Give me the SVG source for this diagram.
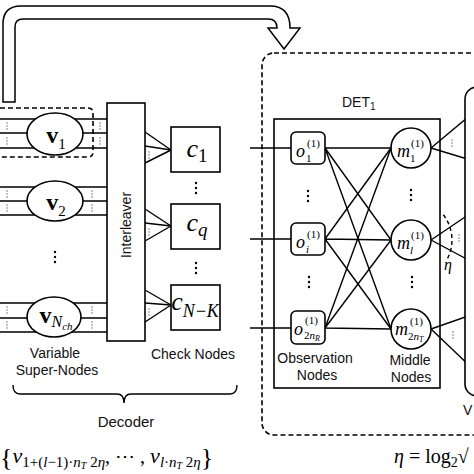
<svg xmlns="http://www.w3.org/2000/svg" width="474" height="474" viewBox="0 0 474 474">
<style>
.ln{stroke:#000;stroke-width:1.4;fill:none}
.nd{fill:#fff;stroke:#000;stroke-width:1.6}
.dash{fill:none;stroke:#000;stroke-width:1.6;stroke-dasharray:5 3}
.sans{font-family:"Liberation Sans",Arial,sans-serif;font-size:14px;fill:#111}
.ser{font-family:"Liberation Serif","Times New Roman",serif;fill:#000}
.it{font-style:italic}
</style>
<defs>
<g id="bd"><circle cx="0" cy="-5" r="1.2"/><circle cx="0" cy="0" r="1.2"/><circle cx="0" cy="5" r="1.2"/></g>
<g id="sd" fill="#555"><circle cx="0" cy="-3" r="0.65"/><circle cx="0" cy="0" r="0.65"/><circle cx="0" cy="3" r="0.65"/></g>
</defs>
<rect width="474" height="474" fill="#fff"/>

<!-- feedback arrow -->
<path id="feedback" d="M3,102 L3,24 Q3,6 21,6 L270,6 Q290,6 290,28 L300,28 L284,49 L268,28 L277,28 Q277,19 268,19 L23,19 Q15,19 15,27 L15,102 Z" fill="#fff" stroke="#000" stroke-width="1.5"/>

<!-- DET dashed region -->
<rect x="262" y="53" width="260" height="382" rx="12" class="dash"/>
<!-- v1 dashed box -->
<path d="M0,108 H88 Q93,108 93,113 V152 Q93,157 88,157 H0" class="dash"/>

<g id="connectors" class="ln">
<path d="M0,119 H107 M0,133 H107 M0,148 H107"/>
<path d="M0,187 H107 M0,201 H107 M0,215 H107"/>
<path d="M0,303 H107 M0,318 H107 M0,332 H107"/>
<path d="M145,132 L171,150 M145,146 L171,150 M145,163 L171,150"/>
<path d="M145,209 L171,226 M145,223 L171,226 M145,241 L171,226"/>
<path d="M145,290 L171,305 M145,303 L171,305 M145,322 L171,305"/>
<path d="M250,148 H291 M250,239 H291 M250,328 H291"/>
<path d="M325,148 L391,148 M325,148 L391,240 M325,148 L391,329"/>
<path d="M325,239 L391,148 M325,239 L391,240 M325,239 L391,329"/>
<path d="M325,328 L391,148 M325,328 L391,240 M325,328 L391,329"/>
<path d="M431,148 L474,112 M431,148 L474,161"/>
<path d="M431,240 L474,211 M431,240 L474,263"/>
<path d="M431,329 L474,314 M431,329 L474,370"/>
<path d="M13,385 Q13,394 20,394 L117,394 Q124,394 124,403 Q124,394 131,394 L230,394 Q237,394 237,385"/>
<path d="M443.3,214.8 A41,41 0 0 1 447.5,258.6" stroke-dasharray="4 3"/>
</g>

<!-- dots -->
<g id="dots">
<use href="#bd" x="55" y="257"/>
<use href="#bd" x="196" y="188"/>
<use href="#bd" x="196" y="268"/>
<use href="#bd" x="308" y="196"/>
<use href="#bd" x="411" y="195"/>
<use href="#bd" x="309" y="282"/>
<use href="#bd" x="412" y="282"/>
<use href="#sd" x="7" y="126"/><use href="#sd" x="7" y="141"/>
<use href="#sd" x="100" y="126"/><use href="#sd" x="100" y="141"/>
<use href="#sd" x="7" y="194"/><use href="#sd" x="7" y="208"/>
<use href="#sd" x="92" y="194"/><use href="#sd" x="92" y="208"/>
<use href="#sd" x="7" y="310"/><use href="#sd" x="7" y="325"/>
<use href="#sd" x="92" y="310"/><use href="#sd" x="92" y="325"/>
<use href="#sd" x="149" y="155"/><use href="#sd" x="149" y="232"/><use href="#sd" x="149" y="312"/>
<use href="#sd" x="452" y="143"/><use href="#sd" x="459" y="238"/><use href="#sd" x="453" y="335"/>
</g>

<!-- variable super-nodes -->
<g id="v1"><ellipse cx="55" cy="134" rx="28" ry="21" class="nd"/>
<text class="ser" x="56" y="143" text-anchor="middle"><tspan font-weight="bold" font-size="24">v</tspan><tspan font-size="15" dy="6">1</tspan></text></g>
<g id="v2"><ellipse cx="55" cy="201" rx="28" ry="20" class="nd"/>
<text class="ser" x="56" y="210" text-anchor="middle"><tspan font-weight="bold" font-size="24">v</tspan><tspan font-size="15" dy="6">2</tspan></text></g>
<g id="vNch"><ellipse cx="54" cy="317" rx="27" ry="20" class="nd"/>
<text class="ser" x="56" y="323" text-anchor="middle"><tspan font-weight="bold" font-size="24">v</tspan><tspan class="it" font-size="16" dy="4">N</tspan><tspan class="it" font-size="11" dy="3">ch</tspan></text></g>

<!-- interleaver -->
<g id="interleaver"><rect x="107" y="103" width="38" height="238" class="nd"/>
<text class="sans" font-size="15" transform="translate(131,225) rotate(-90)" text-anchor="middle">Interleaver</text></g>

<!-- check nodes -->
<g id="c1"><rect x="171" y="127" width="49" height="45" class="nd"/>
<text class="ser" x="197" y="157" text-anchor="middle"><tspan class="it" font-size="26">c</tspan><tspan font-size="19" dy="5">1</tspan></text></g>
<g id="cq"><rect x="171" y="204" width="49" height="45" class="nd"/>
<text class="ser" x="197" y="231" text-anchor="middle"><tspan class="it" font-size="26">c</tspan><tspan class="it" font-size="19" dy="5">q</tspan></text></g>
<g id="cNK"><rect x="171" y="285" width="49" height="45" class="nd"/>
<text class="ser" x="195" y="310" text-anchor="middle"><tspan class="it" font-size="26">c</tspan><tspan class="it" font-size="18" dy="7">N−K</tspan></text></g>

<!-- DET -->
<g id="det"><rect x="274" y="119" width="166" height="269" fill="none" stroke="#000" stroke-width="1.6"/>
<text class="sans" x="342" y="107">DET<tspan font-size="10" dy="3">1</tspan></text></g>

<g id="o1"><rect x="291" y="132" width="34" height="32" rx="5" class="nd"/>
<text class="ser it" x="296" y="157" font-size="18">o</text>
<text class="ser" x="307" y="147" font-size="11">(1)</text>
<text class="ser" x="306" y="162" font-size="11">1</text></g>
<g id="oi"><rect x="291" y="223" width="34" height="32" rx="5" class="nd"/>
<text class="ser it" x="296" y="248" font-size="18">o</text>
<text class="ser" x="307" y="238" font-size="11">(1)</text>
<text class="ser it" x="306" y="253" font-size="11">i</text></g>
<g id="o2nR"><rect x="291" y="311" width="34" height="33" rx="5" class="nd"/>
<text class="ser it" x="294" y="335" font-size="18">o</text>
<text class="ser" x="305" y="324" font-size="11">(1)</text>
<text class="ser" x="304" y="339" font-size="11">2<tspan class="it">n</tspan><tspan class="it" font-size="8" dy="2">R</tspan></text></g>

<g id="m1"><circle cx="411" cy="148" r="20" class="nd"/>
<text class="ser it" x="397" y="157" font-size="18">m</text>
<text class="ser" x="411" y="147" font-size="11">(1)</text>
<text class="ser" x="410" y="162" font-size="11">1</text></g>
<g id="ml"><circle cx="411" cy="240" r="20" class="nd"/>
<text class="ser it" x="397" y="249" font-size="18">m</text>
<text class="ser" x="411" y="239" font-size="11">(1)</text>
<text class="ser it" x="410" y="254" font-size="11">l</text></g>
<g id="m2nT"><circle cx="411" cy="329" r="20" class="nd"/>
<text class="ser it" x="395" y="335" font-size="18">m</text>
<text class="ser" x="410" y="325" font-size="11">(1)</text>
<text class="ser" x="408" y="340" font-size="11">2<tspan class="it">n</tspan><tspan class="it" font-size="8" dy="2">T</tspan></text></g>

<!-- right column -->
<g id="rightcol"><rect x="465" y="87" width="40" height="309" rx="12" class="nd"/></g>
<text class="ser it" x="444" y="270" font-size="16">η</text>

<!-- labels -->
<g id="labels" class="sans" text-anchor="middle">
<text x="55" y="358">Variable</text>
<text x="57" y="375">Super-Nodes</text>
<text x="193" y="359">Check Nodes</text>
<text x="315" y="363">Observation</text>
<text x="317" y="380">Nodes</text>
<text x="410" y="365">Middle</text>
<text x="411" y="382">Nodes</text>
<text x="126" y="427" font-size="15">Decoder</text>
</g>
<text class="sans" x="463" y="415">V</text>

<!-- formulas -->
<text class="ser" x="0" y="463"><tspan font-size="26" dy="3">{</tspan><tspan class="it" font-size="22" dy="-3">v</tspan><tspan font-size="15" dy="4">1+(<tspan class="it">l</tspan>−1)·<tspan class="it">n</tspan><tspan class="it" font-size="10" dy="2">T</tspan><tspan dy="-2"> 2</tspan><tspan class="it">η</tspan></tspan><tspan font-size="20" dy="-4">, ⋯ , </tspan><tspan class="it" font-size="22">v</tspan><tspan font-size="15" dy="4"><tspan class="it">l</tspan>·<tspan class="it">n</tspan><tspan class="it" font-size="10" dy="2">T</tspan><tspan dy="-2"> 2</tspan><tspan class="it">η</tspan></tspan><tspan font-size="26" dy="-1">}</tspan></text>
<text class="ser" x="394" y="463" font-size="20"><tspan class="it">η</tspan> = log<tspan font-size="14" dy="4">2</tspan><tspan dy="-4">√</tspan></text>
</svg>
